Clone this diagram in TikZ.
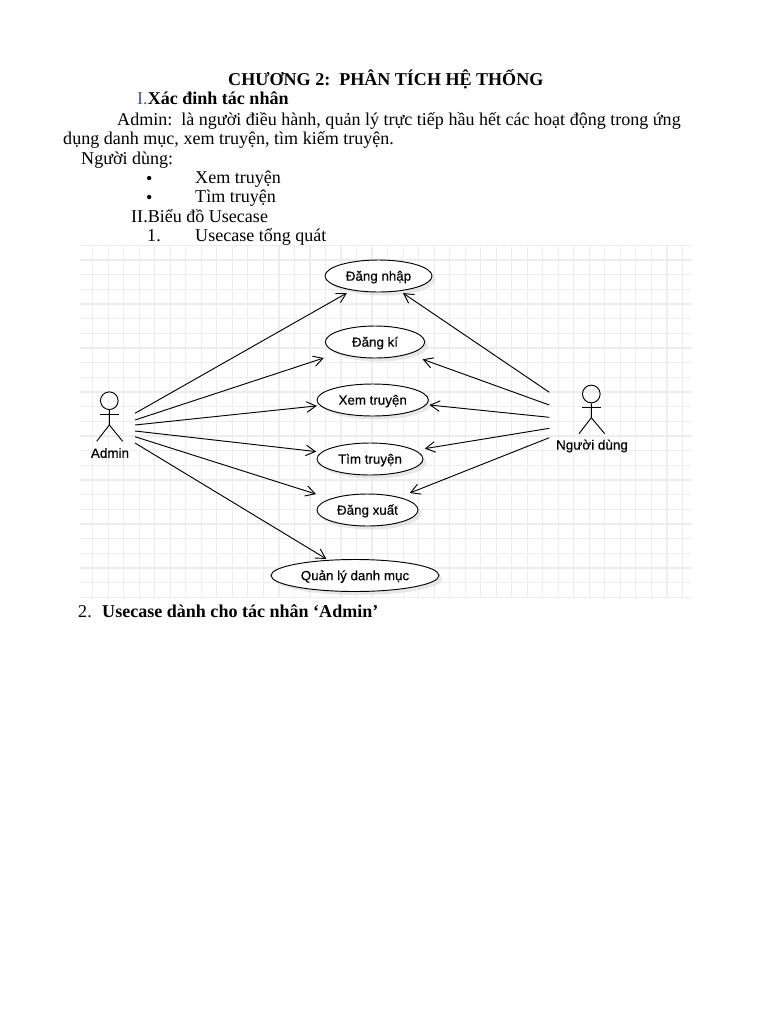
\documentclass[tikz,border=0pt]{standalone}
\usepackage{fontspec}
\usepackage{xcolor}
\setmainfont{Liberation Serif}
\newfontfamily\umlfont[FakeBold=0.35]{Liberation Sans}
\usetikzlibrary{positioning,arrows.meta,shapes.geometric,shadows}
\definecolor{gridline}{RGB}{237,237,237}
\definecolor{headblue}{RGB}{60,90,160}
\tikzset{
    textline/.style={anchor=base west, inner sep=0pt, font=\fontsize{15.4}{18}\selectfont},
    usecase/.style={ellipse, draw, fill=white, line width=0.8pt, inner sep=0pt, minimum height=0.96cm,
        text height=8pt, text depth=0pt,
        font=\umlfont\fontsize{11.4}{13}\selectfont,
        drop shadow={shadow xshift=3pt, shadow yshift=-3pt, fill=black!15, opacity=0.6}},
    actorhead/.style={circle, draw, line width=0.8pt, inner sep=0pt, minimum size=0.53cm},
    actorline/.style={line width=0.8pt},
    actorname/.style={inner sep=0pt, font=\umlfont\fontsize{11.5}{13}\selectfont},
    assoc/.style={->, line width=0.8pt, shorten >=#1*0.03cm}
}

\begin{document}
\begin{tikzpicture}[x=0.03cm, y=-0.03cm, >={Straight Barb[length=8pt,width=9pt]}]

    \useasboundingbox (0,0) rectangle (768,1024);
    \fill[white] (0,0) rectangle (768,1024);

    % Phần văn bản
    \node[textline, font=\fontsize{15.4}{18}\selectfont\bfseries] (title) at (228,85) {CHƯƠNG 2:\ \ PHÂN TÍCH HỆ THỐNG};
    \node[textline] (secone) at (137,104) {\textcolor{headblue}{I.}\textbf{Xác đinh tác nhân}};
    \node[textline] (adminone) at (117,125) {Admin:\ \ là người điều hành, quản lý trực tiếp hầu hết các hoạt động trong ứng};
    \node[textline] (admintwo) at (63,144) {dụng danh mục, xem truyện, tìm kiếm truyện.};
    \node[textline] (userline) at (81,164) {Người dùng:};
    \node[textline] (bulletone) at (146,184) {•};
    \node[textline] (itemone) at (195,183) {Xem truyện};
    \node[textline] (bullettwo) at (146,203) {•};
    \node[textline] (itemtwo) at (195,202) {Tìm truyện};
    \node[textline] (sectwo) at (131,222) {II.Biểu đồ Usecase};
    \node[textline] (numone) at (147,241) {1.};
    \node[textline] (subone) at (195,241) {Usecase tổng quát};
    \node[textline] (numtwo) at (78,617) {2.};
    \node[textline, font=\fontsize{15.4}{18}\selectfont\bfseries] (subtwo) at (102,617) {Usecase dành cho tác nhân ‘Admin’};

    % Lưới nền
    \foreach \i in {-1,...,23}
        \draw[gridline, line width=1pt] (80,{260+14.67*\i}) -- (692,{260+14.67*\i});
    \foreach \i in {0,...,38}
        \draw[gridline, line width=1pt] ({92.7+15.52*\i},245) -- ({92.7+15.52*\i},597);

    % Các ca sử dụng
    \node[usecase, minimum width=3.21cm] (dangnhap) at (378.5,276) {Đăng nhập};
    \node[usecase, minimum width=2.98cm] (dangki) at (375,342) {Đăng kí};
    \node[usecase, minimum width=3.34cm] (xemtruyen) at (372.7,400) {Xem truyện};
    \node[usecase, minimum width=3.18cm] (timtruyen) at (370,459) {Tìm truyện};
    \node[usecase, minimum width=3.03cm] (dangxuat) at (367.5,510) {Đăng xuất};
    \node[usecase, minimum width=5.04cm] (quanly) at (355,575.5) {Quản lý danh mục};

    % Tác nhân Admin
    \node[actorhead] (adminhead) at (109.3,400.7) {};
    \draw[actorline] (adminhead.south) -- (109.3,425) -- (96.7,441.3);
    \draw[actorline] (109.3,425) -- (122.7,441.3);
    \draw[actorline] (100,414.3) -- (119,414.3);
    \node[actorname] (admin) at (110,453) {Admin};

    % Tác nhân Người dùng
    \node[actorhead] (userhead) at (591.3,394) {};
    \draw[actorline] (userhead.south) -- (591.3,417.7) -- (579,433.7);
    \draw[actorline] (591.3,417.7) -- (604.7,433.7);
    \draw[actorline] (582,407.3) -- (601,407.3);
    \node[actorname] (user) at (592,446) {Người dùng};

    % Điểm xuất phát
    \coordinate (adm1) at (135,413.3);
    \coordinate (adm2) at (135,420);
    \coordinate (adm3) at (135,425);
    \coordinate (adm4) at (135,431);
    \coordinate (adm5) at (135,436.7);
    \coordinate (adm6) at (135,443);
    \coordinate (usr1) at (549.3,392.3);
    \coordinate (usr2) at (549.3,405);
    \coordinate (usr3) at (549.3,417.3);
    \coordinate (usr4) at (549.3,428.3);
    \coordinate (usr5) at (549.3,437.7);

    % Liên kết
    \draw[assoc=5.5] (adm1) -- (dangnhap.208);
    \draw[assoc=15.3] (adm2) -- (dangki.197);
    \draw[assoc=3] (adm3) -- (xemtruyen.186);
    \draw[assoc=5.2] (adm4) -- (timtruyen.172);
    \draw[assoc=15.2] (adm5) -- (dangxuat.163);
    \draw[assoc=1.9] (adm6) -- (quanly.150);
    \draw[assoc=3.6] (usr1) -- (dangnhap.325);
    \draw[assoc=14.9] (usr2) -- (dangki.340);
    \draw[assoc=3] (usr3) -- (xemtruyen.355);
    \draw[assoc=9.7] (usr4) -- (timtruyen.11);
    \draw[assoc=11.2] (usr5) -- (dangxuat.22);

\end{tikzpicture}
\end{document}
